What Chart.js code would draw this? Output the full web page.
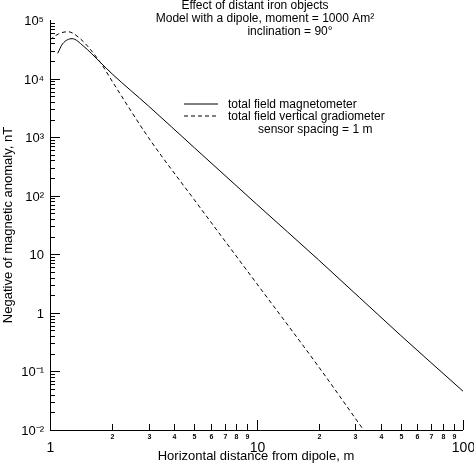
<!DOCTYPE html>
<html><head><meta charset="utf-8">
<script src="https://cdn.jsdelivr.net/npm/chart.js@4"></script>
<style>body{margin:0;background:#fff}#wrap{width:474px;height:466px}</style>
</head><body><div id="wrap"><canvas id="c"></canvas></div>
<script>
const titleLines = ['Effect of distant iron objects', 'Model with a dipole, moment = 1000 Am²', 'inclination = 90°'];
const magX = [1.09, 1.15, 1.28, 1.45, 1.75, 2, 3, 5, 10, 20, 50, 100];
const magY = [2.7e4, 3.9e4, 4.8e4, 3.6e4, 1.9e4, 1.2e4, 3.4e3, 660, 72, 8, 0.41, 0.046];
const gradX = [1, 1.1, 1.22, 1.4, 1.75, 2, 3, 5, 10, 20, 33];
const gradY = [4.6e4, 5.8e4, 6.3e4, 4.8e4, 1.9e4, 9e3, 980, 85, 3.2, 0.12, 0.01];
const xTicks = [1,2,3,4,5,6,7,8,9,10,20,30,40,50,60,70,80,90,100];
const yMajor = [1e5, 1e4, 1e3, 100, 10, 1, 0.1, 0.01];
const yLabels = ['10⁵','10⁴','10³','10²','10','1','10⁻¹','10⁻²'];
const FONT = 'Liberation Sans';

const isMajor = v => Math.abs(Math.log10(v) - Math.round(Math.log10(v))) < 1e-9;
const lead = v => Math.round(v / Math.pow(10, Math.floor(Math.log10(v) + 1e-9)));

const decor = {
  id: 'decor',
  afterDraw(chart) {
    const g = chart.ctx, a = chart.chartArea, sx = chart.scales.x, sy = chart.scales.y;
    g.save();
    g.strokeStyle = '#000'; g.fillStyle = '#000'; g.lineWidth = 1;
    g.beginPath(); g.moveTo(a.left + 0.5, a.top); g.lineTo(a.left + 0.5, a.bottom + 0.5); g.lineTo(a.right, a.bottom + 0.5); g.stroke();
    g.textAlign = 'center';
    xTicks.forEach(v => {
      const p = Math.round(sx.getPixelForValue(v)) + 0.5, maj = isMajor(v);
      g.beginPath(); g.moveTo(p, a.bottom); g.lineTo(p, a.bottom - (maj ? 10 : 6)); g.stroke();
      if (maj) { g.font = '14px ' + FONT; g.fillText(String(v), p, a.bottom + 22); }
      else { g.font = 'bold 7px ' + FONT; g.fillText(String(lead(v)), p, a.bottom + 9); }
    });
    for (let d = -2; d < 5; d++) for (let k = 1; k < 10; k++) {
      const v = k * Math.pow(10, d);
      const p = Math.round(sy.getPixelForValue(v)) + 0.5;
      g.beginPath(); g.moveTo(a.left, p); g.lineTo(a.left + (k === 1 ? 10 : 5), p); g.stroke();
    }
    g.textAlign = 'right';
    g.font = '13px ' + FONT;
    yMajor.forEach((v, i) => {
      const p = sy.getPixelForValue(v);
      g.fillText(yLabels[i], a.left - 6, p + 5);
    });
    g.textAlign = 'center';
    g.font = '12px ' + FONT;
    g.fillText(titleLines[0], 255, 9);
    g.fillText(titleLines[1], 265, 22);
    g.fillText(titleLines[2], 290, 35);
    g.font = '13px ' + FONT;
    g.fillText('Horizontal distance from dipole, m', 256, 460);
    g.save();
    g.translate(12, 225); g.rotate(-Math.PI / 2);
    g.fillText('Negative of magnetic anomaly, nT', 0, 0);
    g.restore();
    g.font = '12px ' + FONT;
    g.textAlign = 'left';
    g.beginPath(); g.moveTo(184, 104); g.lineTo(218, 104); g.stroke();
    g.setLineDash([4, 3]);
    g.beginPath(); g.moveTo(184, 116); g.lineTo(218, 116); g.stroke();
    g.setLineDash([]);
    g.fillText('total field magnetometer', 228, 108);
    g.fillText('total field vertical gradiometer', 228, 120);
    g.fillText('sensor spacing = 1 m', 258, 133);
    g.restore();
  }
};

new Chart(document.getElementById('c'), {
  type: 'line',
  data: {
    datasets: [
      { label: 'total field magnetometer', data: magX.map((x, i) => ({ x, y: magY[i] })),
        borderColor: '#000', borderWidth: 1, pointRadius: 0, cubicInterpolationMode: 'monotone' },
      { label: 'total field vertical gradiometer', data: gradX.map((x, i) => ({ x, y: gradY[i] })),
        borderColor: '#000', borderWidth: 1, borderDash: [4, 3], pointRadius: 0, cubicInterpolationMode: 'monotone' }
    ]
  },
  options: {
    responsive: true, maintainAspectRatio: false, animation: false,
    layout: { padding: { top: 20, right: 11, left: 0, bottom: 0 } },
    plugins: { legend: { display: false }, tooltip: { enabled: false } },
    scales: {
      x: {
        type: 'logarithmic', min: 1, max: 100,
        grid: { display: false }, border: { display: false },
        ticks: { display: false },
        afterFit: s => { s.height = 36; }
      },
      y: {
        type: 'logarithmic', min: 0.01, max: 1e5,
        grid: { display: false }, border: { display: false },
        ticks: { display: false },
        afterFit: s => { s.width = 50; }
      }
    }
  },
  plugins: [decor]
});
</script></body></html>
